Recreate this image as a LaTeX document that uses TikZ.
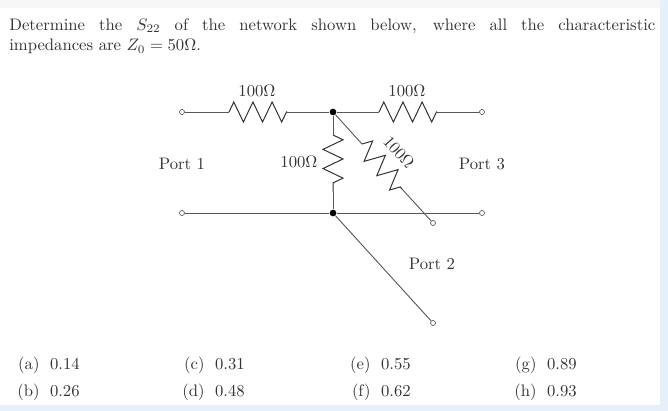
\documentclass[tikz,border=0pt]{standalone}
\usepackage{amsmath}
\usepackage{amssymb}
\usetikzlibrary{decorations.pathmorphing}

\definecolor{wire}{gray}{0.35}
\definecolor{ink}{gray}{0.2}
\definecolor{strip}{HTML}{E6F0FA}

\begin{document}
\begin{tikzpicture}[x=0.6pt,y=-0.6pt,
                    wire/.style={draw=wire,line width=0.55pt},
                    resistor/.style={draw=ink,line width=0.6pt,decorate,
                      decoration={zigzag,amplitude=6pt,segment length=11.5pt}},
                    port/.style={circle,draw=wire,fill=white,line width=0.4pt,inner sep=0pt,minimum size=3pt},
                    junction/.style={circle,fill=black,inner sep=0pt,minimum size=4pt},
                    label/.style={text=ink,inner sep=0pt},
                    answer/.style={text=ink,inner sep=0pt,anchor=base east}]

  \useasboundingbox (0,0) rectangle (668,411);
  \fill[white] (0,0) rectangle (668,411);
  \fill[black!3] (0,0) rectangle (660,8);
  \fill[strip] (660,0) rectangle (668,411);
  \fill[strip] (0,405) rectangle (668,411);

  \node[label,anchor=north west,text width=387.6pt,align=justify] (question) at (9,18)
    {\baselineskip=12.5pt Determine the $S_{22}$ of the network shown below, where all the characteristic\linebreak impedances are $Z_0=50\Omega$.\par};

  \node[port] (p1a) at (182,112) {};
  \node[port] (p1b) at (182,213) {};
  \node[port] (p3a) at (482,112) {};
  \node[port] (p3b) at (482,213) {};
  \node[port] (p2a) at (433,223) {};
  \node[port] (p2b) at (433,323) {};
  \node[junction] (top) at (333,112) {};
  \node[junction] (bot) at (333,213) {};

  \coordinate (r1a) at (229,112);
  \coordinate (r1b) at (287,112);
  \coordinate (r2a) at (379,112);
  \coordinate (r2b) at (437,112);
  \coordinate (r3a) at (333,135);
  \coordinate (r3b) at (333,192);
  \coordinate (r4a) at (362,144);
  \coordinate (r4b) at (402,189);

  \path[wire]
    (p1a) edge (r1a)
    (r1b) edge (top)
    (top) edge (r2a)
    (r2b) edge (p3a)
    (top) edge (r3a)
    (r3b) edge (bot)
    (top) edge (r4a)
    (r4b) edge (p2a)
    (p1b) edge (bot)
    (bot) edge (p3b)
    (bot) edge (p2b);

  \draw[resistor] (r1a) -- (r1b);
  \draw[resistor] (r2a) -- (r2b);
  \draw[resistor] (r3a) -- (r3b);
  \draw[resistor] (r4a) -- (r4b);

  \node[label] (l1) at (257,90.5) {$100\Omega$};
  \node[label] (l2) at (407,90.5) {$100\Omega$};
  \node[label] (l3) at (299,161.5) {$100\Omega$};
  \node[label,rotate=-48] (l4) at (399,152) {$100\Omega$};

  \node[label] (port1) at (182,163.5) {Port 1};
  \node[label] (port3) at (482,163.5) {Port 3};
  \node[label] (port2) at (432,263.5) {Port 2};

  \foreach \name/\x/\y/\tag/\val in {a/80/369/(a)/0.14, b/80/396/(b)/0.26,
                                c/245/369/(c)/0.31, d/245/396/(d)/0.48,
                                e/411/369/(e)/0.55, f/411/396/(f)/0.62,
                                g/577/369/(g)/0.89, h/577/396/(h)/0.93}
    \node[answer] (opt\name) at (\x,\y) {\tag\hspace{6.3pt}\val};
\end{tikzpicture}
\end{document}
